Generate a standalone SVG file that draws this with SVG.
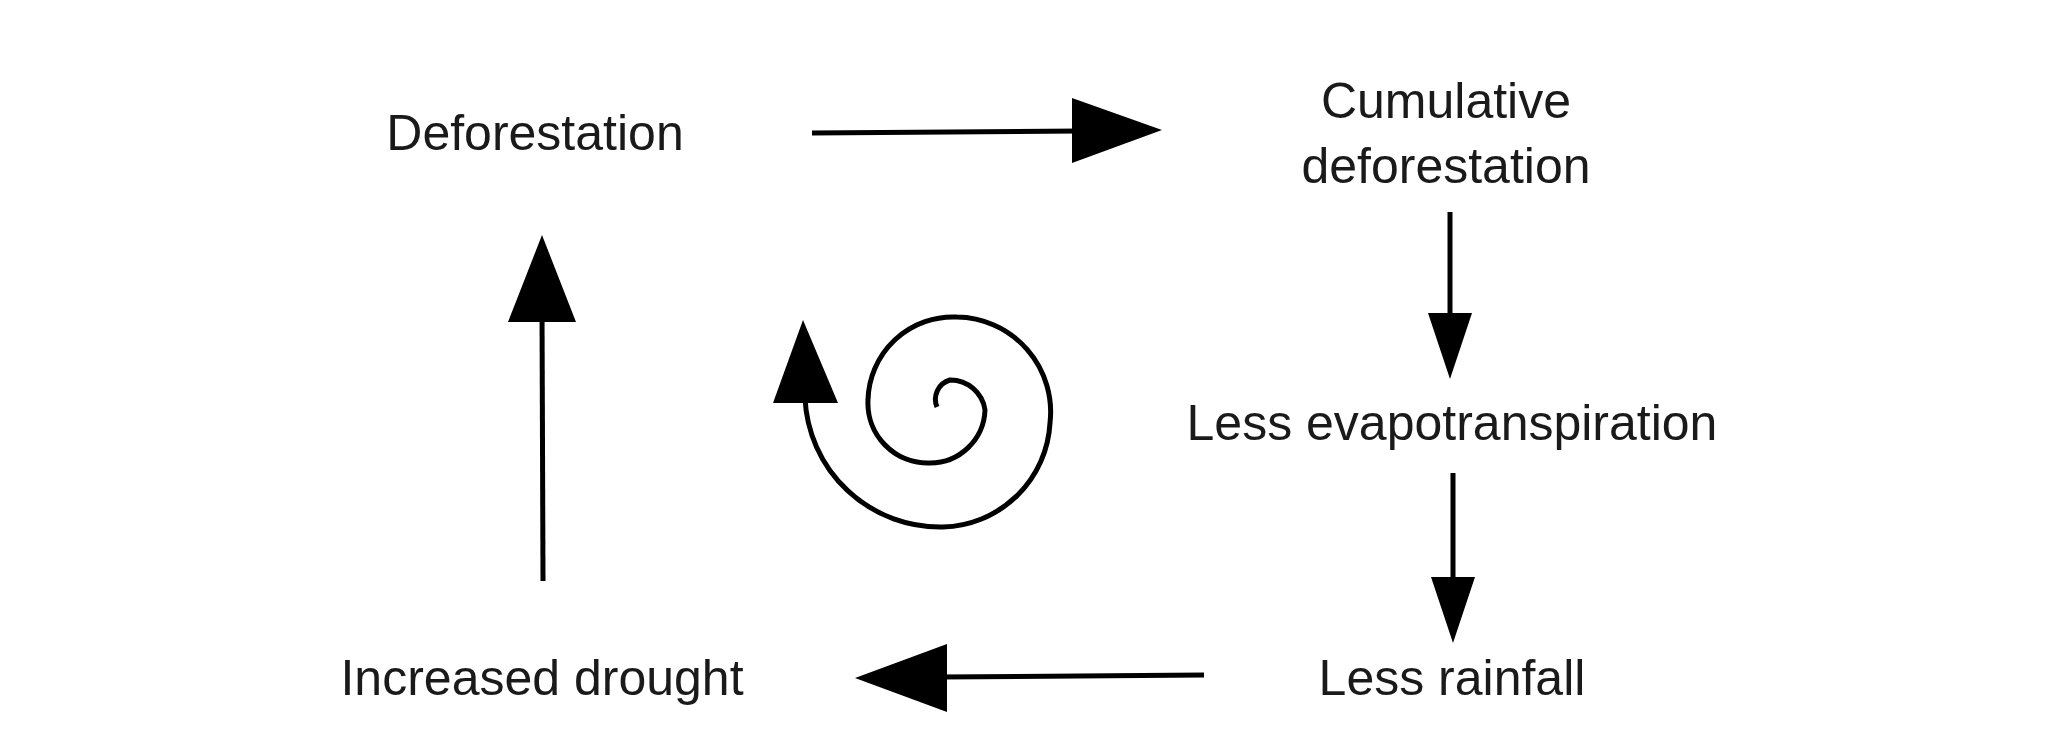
<svg xmlns="http://www.w3.org/2000/svg" width="2048" height="754" viewBox="0 0 2048 754">
<style>
text{font-family:"Liberation Sans",Arial,sans-serif;font-size:50px;fill:#1a1a1a;text-anchor:middle}
.l{stroke:#000;stroke-width:5;fill:none}
.h{fill:#000}
</style>
<rect width="2048" height="754" fill="#fff"/>
<g id="n1"><text x="535" y="150">Deforestation</text></g>
<g id="n2"><text x="1446" y="118">Cumulative</text><text x="1446" y="183">deforestation</text></g>
<g id="n3"><text x="1452" y="440">Less evapotranspiration</text></g>
<g id="n4"><text x="1452" y="695">Less rainfall</text></g>
<g id="n5"><text x="542" y="695">Increased drought</text></g>
<g id="connectors">
<line class="l" x1="812" y1="133" x2="1080" y2="131"/>
<polygon class="h" points="1162,130 1072,98 1072,163"/>
<line class="l" x1="1450" y1="212" x2="1450" y2="320"/>
<polygon class="h" points="1450,379 1428,313 1472,313"/>
<line class="l" x1="1453" y1="473" x2="1453" y2="585"/>
<polygon class="h" points="1453,643 1431,577 1475,577"/>
<line class="l" x1="1204" y1="675" x2="940" y2="677"/>
<polygon class="h" points="855,678 947,644 947,712"/>
<line class="l" x1="543" y1="581" x2="542" y2="310"/>
<polygon class="h" points="542,235 508,322 576,322"/>
<path class="l" d="M937,407 A20,20 0 0 1 950,380 A35,35 0 0 1 985,410 A55,55 0 0 1 930,463 A60,60 0 0 1 868,400 A85,85 0 0 1 957,317 A95,95 0 0 1 1050,423 A110,110 0 0 1 943,527 A135,135 0 0 1 805,398"/>
<polygon class="h" points="803,320 773,403 838,403"/>
</g>
</svg>
